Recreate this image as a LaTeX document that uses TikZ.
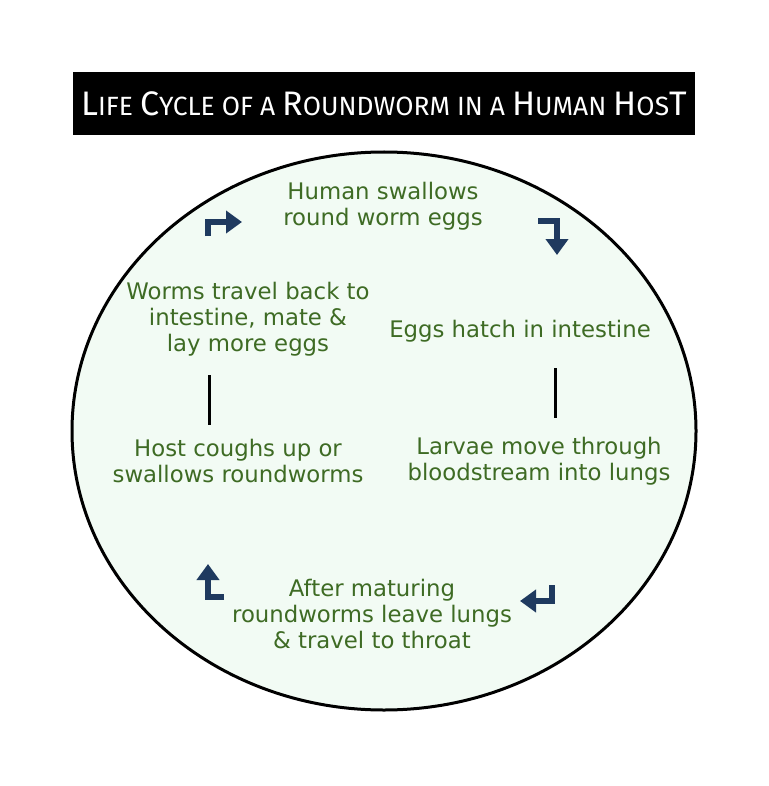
\documentclass[tikz,border=0pt]{standalone}
\usepackage{fontspec}
\setmainfont{DejaVu Sans}
\newfontfamily\titlefont{Fira Sans}
\usetikzlibrary{arrows.meta,shapes.geometric}
\definecolor{StepGreen}{HTML}{3E6B24}
\definecolor{CycleFill}{HTML}{F2FBF4}
\definecolor{ArrowNavy}{HTML}{1F3A5F}
% capital letter in the title
\newcommand{\tcap}[1]{{\fontsize{34}{34}\selectfont #1}}
\tikzset{
  % step texts
  stepnode/.style={align=center,text=StepGreen,inner sep=0pt,
                   font=\fontsize{22.8}{26}\selectfont},
  % bent arrows
  turnarrow/.style={line width=6.5pt,draw=ArrowNavy,
                    -{Triangle[length=16pt,width=22pt]}},
  % short black dividers
  divider/.style={line width=3pt,draw=black}
}
\begin{document}
\begin{tikzpicture}[x=1pt,y=-1pt]
  \fill[white] (0,0) rectangle (768,786);
  \useasboundingbox (0,0) rectangle (768,786);

  \node[fill=black,minimum width=622pt,minimum height=63pt,text=white,
        font=\titlefont\fontsize{26.4}{26.4}\selectfont] (title) at (384,103.5)
    {\tcap{L}IFE \tcap{C}YCLE OF A \tcap{R}OUNDWORM IN A \tcap{H}UMAN \tcap{H}OS\tcap{T}};

  \node[ellipse,draw,line width=3pt,fill=CycleFill,
        minimum width=624pt,minimum height=558pt,inner sep=0pt] (cycle) at (384,431) {};

  \node[stepnode] (swallow) at (383,206) {Human swallows\\round worm eggs};
  \node[stepnode] (hatch)   at (520,331) {Eggs hatch in intestine};
  \node[stepnode] (larvae)  at (539,461) {Larvae move through\\bloodstream into lungs};
  \node[stepnode] (mature)  at (372,614) {After maturing\\roundworms leave lungs\\\& travel to throat};
  \node[stepnode] (cough)   at (238,461) {Host coughs up or\\swallows roundworms};
  \node[stepnode] (back)    at (248,319) {Worms travel back to\\intestine, mate \&\\lay more eggs};

  \draw[divider] (555,368) -- (555,418);
  \draw[divider] (209,375) -- (209,425);

  \draw[turnarrow] (208,236) -- (208,222) -- (242,222);
  \draw[turnarrow] (538,221) -- (557,221) -- (557,255);
  \draw[turnarrow] (552,585) -- (552,601) -- (520,601);
  \draw[turnarrow] (224,597) -- (208,597) -- (208,564);
\end{tikzpicture}
\end{document}
